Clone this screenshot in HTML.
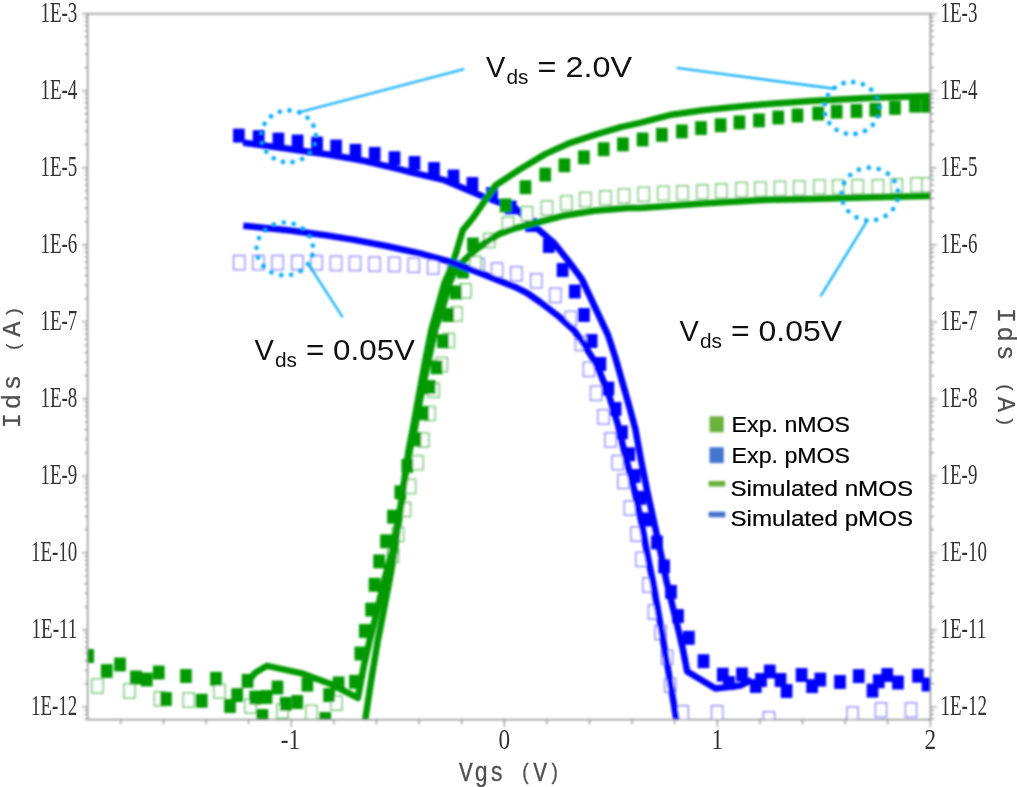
<!DOCTYPE html>
<html lang="en"><head><meta charset="utf-8"><title>Ids-Vgs transfer characteristics</title>
<style>
html,body{margin:0;padding:0;background:#fff;}
body{width:1017px;height:787px;overflow:hidden;}
svg{display:block;}
.tk{font-family:"Liberation Serif",serif;font-size:29px;fill:#333;}
.mono{font-family:"Liberation Mono",monospace;fill:#505050;stroke:#505050;stroke-width:0.25px;}
.ann{font-family:"Liberation Sans",sans-serif;fill:#111;}
.leg{font-family:"Liberation Sans",sans-serif;fill:#000;font-size:21.5px;stroke:#000;stroke-width:0.2px;}
</style></head><body>
<svg width="1017" height="787" viewBox="0 0 1017 787">
<defs><filter id="sf" x="0" y="0" width="100%" height="100%" filterUnits="userSpaceOnUse" ><feGaussianBlur stdDeviation="0.8"/></filter><clipPath id="pc"><rect x="87.6" y="13.8" width="842.8" height="705.8000000000001"/></clipPath></defs>
<rect width="1017" height="787" fill="#fff"/>
<g filter="url(#sf)">

<g clip-path="url(#pc)">
<g fill="#0000ff"><rect x="233.05" y="128.65" width="11.7" height="13.9"/><rect x="252.75" y="130.15" width="11.7" height="13.9"/><rect x="272.55" y="132.65" width="11.7" height="13.9"/><rect x="291.75" y="134.55" width="11.7" height="13.9"/><rect x="311.25" y="136.65" width="11.7" height="13.9"/><rect x="330.25" y="139.55" width="11.7" height="13.9"/><rect x="349.65" y="143.85" width="11.7" height="13.9"/><rect x="368.85" y="146.95" width="11.7" height="13.9"/><rect x="388.65" y="151.25" width="11.7" height="13.9"/><rect x="408.65" y="156.05" width="11.7" height="13.9"/><rect x="428.15" y="162.05" width="11.7" height="13.9"/><rect x="447.65" y="169.55" width="11.7" height="13.9"/><rect x="466.55" y="177.05" width="11.7" height="13.9"/><rect x="486.15" y="187.05" width="11.7" height="13.9"/><rect x="504.85" y="200.55" width="11.7" height="13.9"/><rect x="525.15" y="218.05" width="11.7" height="13.9"/><rect x="542.95" y="239.05" width="11.7" height="13.9"/><rect x="556.75" y="263.05" width="11.7" height="13.9"/><rect x="568.95" y="284.55" width="11.7" height="13.9"/><rect x="578.15" y="308.05" width="11.7" height="13.9"/><rect x="585.75" y="334.05" width="11.7" height="13.9"/><rect x="594.55" y="357.05" width="11.7" height="13.9"/><rect x="602.55" y="381.65" width="11.7" height="13.9"/><rect x="609.75" y="402.05" width="11.7" height="13.9"/><rect x="616.15" y="425.35" width="11.7" height="13.9"/><rect x="623.35" y="447.35" width="11.7" height="13.9"/><rect x="628.85" y="469.05" width="11.7" height="13.9"/><rect x="634.45" y="490.85" width="11.7" height="13.9"/><rect x="640.15" y="512.55" width="11.7" height="13.9"/><rect x="651.15" y="535.45" width="11.7" height="13.9"/><rect x="658.25" y="559.45" width="11.7" height="13.9"/><rect x="665.15" y="584.95" width="11.7" height="13.9"/><rect x="672.15" y="609.15" width="11.7" height="13.9"/><rect x="683.05" y="630.85" width="11.7" height="13.9"/><rect x="697.65" y="654.25" width="11.7" height="13.9"/><rect x="716.95" y="667.75" width="11.7" height="13.9"/><rect x="723.15" y="676.05" width="11.7" height="13.9"/><rect x="736.15" y="667.55" width="11.7" height="13.9"/><rect x="749.95" y="679.05" width="11.7" height="13.9"/><rect x="755.15" y="673.05" width="11.7" height="13.9"/><rect x="763.95" y="664.55" width="11.7" height="13.9"/><rect x="774.65" y="673.05" width="11.7" height="13.9"/><rect x="780.75" y="684.05" width="11.7" height="13.9"/><rect x="795.75" y="668.05" width="11.7" height="13.9"/><rect x="806.25" y="679.15" width="11.7" height="13.9"/><rect x="814.45" y="672.65" width="11.7" height="13.9"/><rect x="834.15" y="675.05" width="11.7" height="13.9"/><rect x="852.90" y="669.15" width="11.7" height="13.9"/><rect x="866.65" y="683.65" width="11.7" height="13.9"/><rect x="872.90" y="674.30" width="11.7" height="13.9"/><rect x="881.40" y="668.05" width="11.7" height="13.9"/><rect x="892.15" y="675.55" width="11.7" height="13.9"/><rect x="912.15" y="668.80" width="11.7" height="13.9"/><rect x="921.65" y="677.55" width="11.7" height="13.9"/></g>
<polyline points="243.00,142.60 246.00,143.00 288.00,148.70 328.00,154.50 353.00,158.70 365.00,161.00 400.00,169.40 410.00,172.00 443.40,179.80 481.80,196.00 516.40,208.90 537.80,229.00 554.00,242.90 568.00,260.50 581.80,279.00 608.00,335.00 615.50,358.00 627.90,401.50 635.40,429.20 641.00,460.00 647.30,491.50 652.30,514.10 659.50,547.00 666.60,581.50 674.20,613.00 678.40,630.00 682.80,648.90 687.20,671.50 715.50,688.50 740.70,685.40 751.50,680.00" fill="none" stroke="#0000ff" stroke-width="6.5" stroke-linejoin="round" stroke-linecap="butt"/>
<g fill="#fff" stroke="#8580ff" stroke-width="1.4"><rect x="233.65" y="255.55" width="11.1" height="14.1"/><rect x="252.85" y="255.55" width="11.1" height="14.1"/><rect x="272.05" y="255.55" width="11.1" height="14.1"/><rect x="291.85" y="255.55" width="11.1" height="14.1"/><rect x="311.05" y="255.65" width="11.1" height="14.1"/><rect x="330.45" y="256.35" width="11.1" height="14.1"/><rect x="349.45" y="256.45" width="11.1" height="14.1"/><rect x="368.95" y="257.15" width="11.1" height="14.1"/><rect x="388.70" y="257.35" width="11.1" height="14.1"/><rect x="408.20" y="258.25" width="11.1" height="14.1"/><rect x="427.65" y="259.85" width="11.1" height="14.1"/><rect x="447.45" y="260.45" width="11.1" height="14.1"/><rect x="473.05" y="258.45" width="11.1" height="14.1"/><rect x="491.55" y="262.95" width="11.1" height="14.1"/><rect x="510.75" y="266.75" width="11.1" height="14.1"/><rect x="530.75" y="273.75" width="11.1" height="14.1"/><rect x="549.85" y="288.35" width="11.1" height="14.1"/><rect x="565.25" y="311.45" width="11.1" height="14.1"/><rect x="575.45" y="336.45" width="11.1" height="14.1"/><rect x="583.45" y="362.35" width="11.1" height="14.1"/><rect x="590.55" y="386.25" width="11.1" height="14.1"/><rect x="597.95" y="409.85" width="11.1" height="14.1"/><rect x="604.95" y="432.85" width="11.1" height="14.1"/><rect x="612.25" y="455.55" width="11.1" height="14.1"/><rect x="617.95" y="474.35" width="11.1" height="14.1"/><rect x="624.45" y="501.05" width="11.1" height="14.1"/><rect x="631.05" y="526.95" width="11.1" height="14.1"/><rect x="636.05" y="552.35" width="11.1" height="14.1"/><rect x="642.95" y="577.95" width="11.1" height="14.1"/><rect x="648.45" y="604.95" width="11.1" height="14.1"/><rect x="654.95" y="625.45" width="11.1" height="14.1"/><rect x="661.45" y="650.35" width="11.1" height="14.1"/><rect x="664.65" y="678.35" width="11.1" height="14.1"/><rect x="677.25" y="705.75" width="11.1" height="14.1"/><rect x="711.55" y="705.75" width="11.1" height="14.1"/><rect x="763.45" y="711.75" width="11.1" height="14.1"/><rect x="846.95" y="706.95" width="11.1" height="14.1"/><rect x="875.45" y="702.95" width="11.1" height="14.1"/><rect x="905.45" y="702.95" width="11.1" height="14.1"/></g>
<g fill="#fff" stroke="#62c462" stroke-width="1.4"><rect x="91.95" y="678.95" width="11.1" height="14.1"/><rect x="123.95" y="683.95" width="11.1" height="14.1"/><rect x="154.45" y="691.70" width="11.1" height="14.1"/><rect x="183.20" y="692.95" width="11.1" height="14.1"/><rect x="213.95" y="683.95" width="11.1" height="14.1"/><rect x="244.95" y="698.95" width="11.1" height="14.1"/><rect x="276.95" y="704.05" width="11.1" height="14.1"/><rect x="305.95" y="705.35" width="11.1" height="14.1"/><rect x="330.85" y="696.15" width="11.1" height="14.1"/><rect x="387.45" y="548.35" width="11.1" height="14.1"/><rect x="392.55" y="527.35" width="11.1" height="14.1"/><rect x="399.45" y="502.45" width="11.1" height="14.1"/><rect x="404.45" y="479.45" width="11.1" height="14.1"/><rect x="411.95" y="455.55" width="11.1" height="14.1"/><rect x="417.65" y="432.95" width="11.1" height="14.1"/><rect x="423.95" y="406.45" width="11.1" height="14.1"/><rect x="428.15" y="383.15" width="11.1" height="14.1"/><rect x="436.25" y="357.45" width="11.1" height="14.1"/><rect x="443.25" y="333.45" width="11.1" height="14.1"/><rect x="450.95" y="306.95" width="11.1" height="14.1"/><rect x="459.95" y="283.75" width="11.1" height="14.1"/><rect x="469.85" y="256.45" width="11.1" height="14.1"/><rect x="483.65" y="233.45" width="11.1" height="14.1"/><rect x="502.45" y="216.95" width="11.1" height="14.1"/><rect x="521.45" y="206.55" width="11.1" height="14.1"/><rect x="541.45" y="200.95" width="11.1" height="14.1"/><rect x="560.85" y="195.95" width="11.1" height="14.1"/><rect x="579.75" y="192.45" width="11.1" height="14.1"/><rect x="599.85" y="190.85" width="11.1" height="14.1"/><rect x="618.45" y="188.95" width="11.1" height="14.1"/><rect x="638.25" y="187.35" width="11.1" height="14.1"/><rect x="657.75" y="186.35" width="11.1" height="14.1"/><rect x="676.95" y="185.75" width="11.1" height="14.1"/><rect x="696.75" y="184.85" width="11.1" height="14.1"/><rect x="715.65" y="183.85" width="11.1" height="14.1"/><rect x="736.05" y="182.55" width="11.1" height="14.1"/><rect x="754.95" y="182.25" width="11.1" height="14.1"/><rect x="774.45" y="181.45" width="11.1" height="14.1"/><rect x="793.70" y="180.95" width="11.1" height="14.1"/><rect x="813.85" y="179.95" width="11.1" height="14.1"/><rect x="832.75" y="179.95" width="11.1" height="14.1"/><rect x="852.25" y="179.75" width="11.1" height="14.1"/><rect x="872.45" y="179.75" width="11.1" height="14.1"/><rect x="891.25" y="178.75" width="11.1" height="14.1"/><rect x="911.15" y="177.75" width="11.1" height="14.1"/><rect x="921.95" y="177.75" width="11.1" height="14.1"/></g>
<polyline points="365.10,720.50 371.60,677.80 377.90,640.00 379.90,630.30 390.00,578.00 394.30,553.00 397.90,527.80 401.70,502.60 404.70,478.00 409.80,450.30 415.50,425.20 420.00,400.00 428.50,360.30 435.40,328.90 442.00,310.00 449.60,282.90 455.20,270.30 464.00,260.30 476.60,249.00 488.00,241.00 500.00,233.60 515.00,228.30 531.50,224.00 563.00,215.80 594.40,210.80 628.00,207.90 640.00,207.90 702.90,203.50 768.00,199.70 810.00,199.10 873.00,197.20 931.00,195.90" fill="none" stroke="#009a00" stroke-width="6.5" stroke-linejoin="round" stroke-linecap="butt"/>
<g fill="#009a00"><rect x="82.35" y="649.05" width="11.7" height="13.9"/><rect x="100.90" y="664.05" width="11.7" height="13.9"/><rect x="114.15" y="657.55" width="11.7" height="13.9"/><rect x="130.15" y="670.55" width="11.7" height="13.9"/><rect x="140.90" y="672.55" width="11.7" height="13.9"/><rect x="152.90" y="665.55" width="11.7" height="13.9"/><rect x="160.15" y="692.05" width="11.7" height="13.9"/><rect x="180.15" y="669.05" width="11.7" height="13.9"/><rect x="195.90" y="693.80" width="11.7" height="13.9"/><rect x="210.15" y="671.80" width="11.7" height="13.9"/><rect x="224.15" y="699.05" width="11.7" height="13.9"/><rect x="231.35" y="688.15" width="11.7" height="13.9"/><rect x="241.75" y="673.95" width="11.7" height="13.9"/><rect x="249.35" y="690.65" width="11.7" height="13.9"/><rect x="256.55" y="709.05" width="11.7" height="13.9"/><rect x="260.65" y="690.05" width="11.7" height="13.9"/><rect x="271.65" y="680.55" width="11.7" height="13.9"/><rect x="279.85" y="696.95" width="11.7" height="13.9"/><rect x="291.45" y="695.05" width="11.7" height="13.9"/><rect x="301.55" y="677.75" width="11.7" height="13.9"/><rect x="319.45" y="712.05" width="11.7" height="13.9"/><rect x="323.25" y="688.15" width="11.7" height="13.9"/><rect x="332.75" y="676.45" width="11.7" height="13.9"/><rect x="349.15" y="674.85" width="11.7" height="13.9"/><rect x="354.45" y="646.55" width="11.7" height="13.9"/><rect x="358.95" y="624.05" width="11.7" height="13.9"/><rect x="365.25" y="602.65" width="11.7" height="13.9"/><rect x="368.65" y="577.85" width="11.7" height="13.9"/><rect x="373.25" y="554.45" width="11.7" height="13.9"/><rect x="380.15" y="534.35" width="11.7" height="13.9"/><rect x="387.15" y="509.75" width="11.7" height="13.9"/><rect x="394.45" y="485.35" width="11.7" height="13.9"/><rect x="401.45" y="458.85" width="11.7" height="13.9"/><rect x="409.55" y="432.35" width="11.7" height="13.9"/><rect x="417.15" y="406.25" width="11.7" height="13.9"/><rect x="423.85" y="380.15" width="11.7" height="13.9"/><rect x="430.75" y="360.35" width="11.7" height="13.9"/><rect x="437.15" y="334.25" width="11.7" height="13.9"/><rect x="442.35" y="308.05" width="11.7" height="13.9"/><rect x="450.05" y="285.45" width="11.7" height="13.9"/><rect x="457.15" y="264.55" width="11.7" height="13.9"/><rect x="467.05" y="237.55" width="11.7" height="13.9"/><rect x="499.85" y="198.45" width="11.7" height="13.9"/><rect x="519.65" y="180.25" width="11.7" height="13.9"/><rect x="539.35" y="167.65" width="11.7" height="13.9"/><rect x="558.55" y="158.35" width="11.7" height="13.9"/><rect x="578.05" y="150.35" width="11.7" height="13.9"/><rect x="597.85" y="142.25" width="11.7" height="13.9"/><rect x="617.05" y="137.45" width="11.7" height="13.9"/><rect x="636.75" y="132.55" width="11.7" height="13.9"/><rect x="656.05" y="127.85" width="11.7" height="13.9"/><rect x="676.05" y="124.45" width="11.7" height="13.9"/><rect x="695.15" y="121.15" width="11.7" height="13.9"/><rect x="714.75" y="118.25" width="11.7" height="13.9"/><rect x="733.55" y="115.45" width="11.7" height="13.9"/><rect x="753.15" y="113.45" width="11.7" height="13.9"/><rect x="772.40" y="110.55" width="11.7" height="13.9"/><rect x="791.65" y="108.55" width="11.7" height="13.9"/><rect x="812.35" y="106.55" width="11.7" height="13.9"/><rect x="830.85" y="104.75" width="11.7" height="13.9"/><rect x="850.65" y="104.05" width="11.7" height="13.9"/><rect x="869.45" y="102.85" width="11.7" height="13.9"/><rect x="889.15" y="100.95" width="11.7" height="13.9"/><rect x="909.15" y="98.75" width="11.7" height="13.9"/><rect x="921.15" y="98.75" width="11.7" height="13.9"/></g>
<polyline points="250.50,678.50 255.20,672.70 267.10,665.80 301.70,673.40 330.70,684.00 357.80,697.90 364.00,665.20 369.70,640.00 372.90,628.00 384.80,578.00 391.70,553.00 396.70,527.80 401.10,502.60 404.70,478.00 408.60,450.30 413.50,425.20 418.00,400.00 425.30,360.30 431.60,328.90 437.00,310.00 444.50,282.90 450.20,270.30 456.50,251.50 462.80,230.10 472.90,218.00 495.70,185.20 520.00,169.20 545.20,154.10 570.30,142.80 595.50,134.60 620.70,127.10 640.00,122.90 671.50,114.70 702.90,110.30 734.40,107.10 768.00,104.00 810.00,100.90 873.00,97.80 931.00,95.90" fill="none" stroke="#009a00" stroke-width="6.5" stroke-linejoin="round" stroke-linecap="butt"/>
<polyline points="243.30,225.80 288.00,230.20 325.70,235.20 353.00,239.60 385.00,245.80 420.00,253.40 451.50,262.20 482.90,274.10 514.40,286.70 527.00,293.00 540.00,302.00 558.90,316.50 574.00,330.30 584.00,344.20 594.10,360.60 599.00,370.00 609.00,395.20 617.80,424.10 622.90,445.50 626.50,460.00 634.70,491.50 641.60,523.00 646.50,550.00 652.80,581.50 659.10,616.70 668.90,674.00 676.50,720.50" fill="none" stroke="#0000ff" stroke-width="6.5" stroke-linejoin="round" stroke-linecap="butt"/>
</g>
<g stroke="#7a7a7a" stroke-width="1.2" fill="none">
<rect x="87.6" y="13.8" width="842.8" height="705.8000000000001"/>
<path d="M82.0 707.02H87.6M930.4 707.02H936.6999999999999M84.6 683.83H87.6M930.4 683.83H934.1M84.6 670.27H87.6M930.4 670.27H934.1M84.6 660.64H87.6M930.4 660.64H934.1M84.6 653.18H87.6M930.4 653.18H934.1M84.6 647.08H87.6M930.4 647.08H934.1M84.6 641.92H87.6M930.4 641.92H934.1M84.6 637.45H87.6M930.4 637.45H934.1M84.6 633.51H87.6M930.4 633.51H934.1M82.0 629.99H87.6M930.4 629.99H936.6999999999999M84.6 606.80H87.6M930.4 606.80H934.1M84.6 593.24H87.6M930.4 593.24H934.1M84.6 583.61H87.6M930.4 583.61H934.1M84.6 576.15H87.6M930.4 576.15H934.1M84.6 570.05H87.6M930.4 570.05H934.1M84.6 564.89H87.6M930.4 564.89H934.1M84.6 560.42H87.6M930.4 560.42H934.1M84.6 556.48H87.6M930.4 556.48H934.1M82.0 552.96H87.6M930.4 552.96H936.6999999999999M84.6 529.77H87.6M930.4 529.77H934.1M84.6 516.21H87.6M930.4 516.21H934.1M84.6 506.58H87.6M930.4 506.58H934.1M84.6 499.12H87.6M930.4 499.12H934.1M84.6 493.02H87.6M930.4 493.02H934.1M84.6 487.86H87.6M930.4 487.86H934.1M84.6 483.39H87.6M930.4 483.39H934.1M84.6 479.45H87.6M930.4 479.45H934.1M82.0 475.93H87.6M930.4 475.93H936.6999999999999M84.6 452.74H87.6M930.4 452.74H934.1M84.6 439.18H87.6M930.4 439.18H934.1M84.6 429.55H87.6M930.4 429.55H934.1M84.6 422.09H87.6M930.4 422.09H934.1M84.6 415.99H87.6M930.4 415.99H934.1M84.6 410.83H87.6M930.4 410.83H934.1M84.6 406.36H87.6M930.4 406.36H934.1M84.6 402.42H87.6M930.4 402.42H934.1M82.0 398.90H87.6M930.4 398.90H936.6999999999999M84.6 375.71H87.6M930.4 375.71H934.1M84.6 362.15H87.6M930.4 362.15H934.1M84.6 352.52H87.6M930.4 352.52H934.1M84.6 345.06H87.6M930.4 345.06H934.1M84.6 338.96H87.6M930.4 338.96H934.1M84.6 333.80H87.6M930.4 333.80H934.1M84.6 329.33H87.6M930.4 329.33H934.1M84.6 325.39H87.6M930.4 325.39H934.1M82.0 321.87H87.6M930.4 321.87H936.6999999999999M84.6 298.68H87.6M930.4 298.68H934.1M84.6 285.12H87.6M930.4 285.12H934.1M84.6 275.49H87.6M930.4 275.49H934.1M84.6 268.03H87.6M930.4 268.03H934.1M84.6 261.93H87.6M930.4 261.93H934.1M84.6 256.77H87.6M930.4 256.77H934.1M84.6 252.30H87.6M930.4 252.30H934.1M84.6 248.36H87.6M930.4 248.36H934.1M82.0 244.84H87.6M930.4 244.84H936.6999999999999M84.6 221.65H87.6M930.4 221.65H934.1M84.6 208.09H87.6M930.4 208.09H934.1M84.6 198.46H87.6M930.4 198.46H934.1M84.6 191.00H87.6M930.4 191.00H934.1M84.6 184.90H87.6M930.4 184.90H934.1M84.6 179.74H87.6M930.4 179.74H934.1M84.6 175.27H87.6M930.4 175.27H934.1M84.6 171.33H87.6M930.4 171.33H934.1M82.0 167.81H87.6M930.4 167.81H936.6999999999999M84.6 144.62H87.6M930.4 144.62H934.1M84.6 131.06H87.6M930.4 131.06H934.1M84.6 121.43H87.6M930.4 121.43H934.1M84.6 113.97H87.6M930.4 113.97H934.1M84.6 107.87H87.6M930.4 107.87H934.1M84.6 102.71H87.6M930.4 102.71H934.1M84.6 98.24H87.6M930.4 98.24H934.1M84.6 94.30H87.6M930.4 94.30H934.1M82.0 90.78H87.6M930.4 90.78H936.6999999999999M84.6 67.59H87.6M930.4 67.59H934.1M84.6 54.03H87.6M930.4 54.03H934.1M84.6 44.40H87.6M930.4 44.40H934.1M84.6 36.94H87.6M930.4 36.94H934.1M84.6 30.84H87.6M930.4 30.84H934.1M84.6 25.68H87.6M930.4 25.68H934.1M84.6 21.21H87.6M930.4 21.21H934.1M84.6 17.27H87.6M930.4 17.27H934.1M82.0 13.75H87.6M930.4 13.75H936.6999999999999M84.6 718.95H87.6M930.4 718.95H934.1M84.6 714.48H87.6M930.4 714.48H934.1M84.6 710.54H87.6M930.4 710.54H934.1M120.90 719.6V724.4M163.50 719.6V724.4M206.10 719.6V724.4M248.70 719.6V724.4M291.30 719.6V727.2M333.90 719.6V724.4M376.50 719.6V724.4M419.10 719.6V724.4M461.70 719.6V724.4M504.30 719.6V727.2M546.90 719.6V724.4M589.50 719.6V724.4M632.10 719.6V724.4M674.70 719.6V724.4M717.30 719.6V727.2M759.90 719.6V724.4M802.50 719.6V724.4M845.10 719.6V724.4M887.70 719.6V724.4M930.30 719.6V727.2" stroke-width="1"/>
</g>
</g>
<text class="tk" transform="translate(77.30 715.22) scale(0.655 1)" text-anchor="end">1E-12</text>
<text class="tk" transform="translate(940.50 715.22) scale(0.655 1)" text-anchor="start">1E-12</text>
<text class="tk" transform="translate(77.30 638.19) scale(0.655 1)" text-anchor="end">1E-11</text>
<text class="tk" transform="translate(940.50 638.19) scale(0.655 1)" text-anchor="start">1E-11</text>
<text class="tk" transform="translate(77.30 561.16) scale(0.655 1)" text-anchor="end">1E-10</text>
<text class="tk" transform="translate(940.50 561.16) scale(0.655 1)" text-anchor="start">1E-10</text>
<text class="tk" transform="translate(77.30 484.13) scale(0.655 1)" text-anchor="end">1E-9</text>
<text class="tk" transform="translate(940.50 484.13) scale(0.655 1)" text-anchor="start">1E-9</text>
<text class="tk" transform="translate(77.30 407.10) scale(0.655 1)" text-anchor="end">1E-8</text>
<text class="tk" transform="translate(940.50 407.10) scale(0.655 1)" text-anchor="start">1E-8</text>
<text class="tk" transform="translate(77.30 330.07) scale(0.655 1)" text-anchor="end">1E-7</text>
<text class="tk" transform="translate(940.50 330.07) scale(0.655 1)" text-anchor="start">1E-7</text>
<text class="tk" transform="translate(77.30 253.04) scale(0.655 1)" text-anchor="end">1E-6</text>
<text class="tk" transform="translate(940.50 253.04) scale(0.655 1)" text-anchor="start">1E-6</text>
<text class="tk" transform="translate(77.30 176.01) scale(0.655 1)" text-anchor="end">1E-5</text>
<text class="tk" transform="translate(940.50 176.01) scale(0.655 1)" text-anchor="start">1E-5</text>
<text class="tk" transform="translate(77.30 98.98) scale(0.655 1)" text-anchor="end">1E-4</text>
<text class="tk" transform="translate(940.50 98.98) scale(0.655 1)" text-anchor="start">1E-4</text>
<text class="tk" transform="translate(77.30 21.95) scale(0.655 1)" text-anchor="end">1E-3</text>
<text class="tk" transform="translate(940.50 21.95) scale(0.655 1)" text-anchor="start">1E-3</text>
<text class="tk" transform="translate(290.50 749.30) scale(0.8 1)" text-anchor="middle">-1</text>
<text class="tk" transform="translate(504.30 749.30) scale(0.8 1)" text-anchor="middle">0</text>
<text class="tk" transform="translate(717.30 749.30) scale(0.8 1)" text-anchor="middle">1</text>
<text class="tk" transform="translate(930.30 749.30) scale(0.8 1)" text-anchor="middle">2</text>
<text class="mono" font-size="25.5" transform="translate(20.3 428.3) rotate(-90)" textLength="122" lengthAdjust="spacing">Ids <tspan font-size="19" dy="-1.6">(</tspan><tspan dy="1.6">A</tspan><tspan font-size="19" dy="-1.6">)</tspan></text>
<text class="mono" font-size="25.5" transform="translate(998 307.8) rotate(90)" textLength="119" lengthAdjust="spacing">Ids <tspan font-size="19" dy="-1.6">(</tspan><tspan dy="1.6">A</tspan><tspan font-size="19" dy="-1.6">)</tspan></text>
<text class="mono" font-size="23" transform="translate(459 781) scale(1 1.2)" textLength="101" lengthAdjust="spacing">Vgs <tspan font-size="19" dy="-1.4">(</tspan><tspan dy="1.4">V</tspan><tspan font-size="19" dy="-1.4">)</tspan></text>
<text class="ann" font-size="29" x="486" y="77">V<tspan font-size="21" x="506.5" dy="6.8" textLength="22" lengthAdjust="spacingAndGlyphs">ds</tspan> <tspan x="537.5" dy="-6.8" textLength="94.5" lengthAdjust="spacingAndGlyphs">= 2.0V</tspan></text>
<text class="ann" font-size="29" x="254.5" y="360">V<tspan font-size="21" x="275.0" dy="6.8" textLength="22" lengthAdjust="spacingAndGlyphs">ds</tspan> <tspan x="306.0" dy="-6.8" textLength="109.0" lengthAdjust="spacingAndGlyphs">= 0.05V</tspan></text>
<text class="ann" font-size="29" x="679.5" y="341.3">V<tspan font-size="21" x="700.0" dy="6.8" textLength="22" lengthAdjust="spacingAndGlyphs">ds</tspan> <tspan x="731.0" dy="-6.8" textLength="111.0" lengthAdjust="spacingAndGlyphs">= 0.05V</tspan></text>
<g fill="none" stroke="#00aaf8" filter="url(#sf)">
<ellipse cx="288.5" cy="136.4" rx="27.4" ry="26" stroke-width="4.7" stroke-linecap="round" stroke-dasharray="0 9.870" stroke-dashoffset="1.9"/>
<ellipse cx="284.8" cy="249" rx="28.3" ry="26.4" stroke-width="4.7" stroke-linecap="round" stroke-dasharray="0 10.112" stroke-dashoffset="4.1"/>
<ellipse cx="851.8" cy="108.1" rx="27.4" ry="26.1" stroke-width="4.7" stroke-linecap="round" stroke-dasharray="0 9.888" stroke-dashoffset="1.5"/>
<ellipse cx="869.8" cy="194.05" rx="28.3" ry="26.4" stroke-width="4.7" stroke-linecap="round" stroke-dasharray="0 10.112" stroke-dashoffset="4.1"/>
<path d="M298.5 112.5L463.5 69.3M677.5 68L834 88.7M308 263.5L342.2 316.5M867.3 220.5L821 295.5" stroke-width="2.2" stroke-linecap="round"/>
</g>
<g filter="url(#sf)">
<rect x="709.5" y="416.3" width="14.2" height="16" fill="#6bb23d"/>
<rect x="709.5" y="447.3" width="14.2" height="15.8" fill="#4474cf"/>
<rect x="708.6" y="481" width="16.7" height="5.6" fill="#6bb23d"/>
<rect x="708.6" y="511.7" width="16.7" height="5.6" fill="#4474cf"/>
</g>
<text class="leg" x="731.6" y="431.7" textLength="118.5" lengthAdjust="spacingAndGlyphs">Exp. nMOS</text>
<text class="leg" x="731.6" y="462.9" textLength="118.5" lengthAdjust="spacingAndGlyphs">Exp. pMOS</text>
<text class="leg" x="730.5" y="496.2" textLength="182.6" lengthAdjust="spacingAndGlyphs">Simulated nMOS</text>
<text class="leg" x="730.5" y="525.6" textLength="182.6" lengthAdjust="spacingAndGlyphs">Simulated pMOS</text>
</svg></body></html>
